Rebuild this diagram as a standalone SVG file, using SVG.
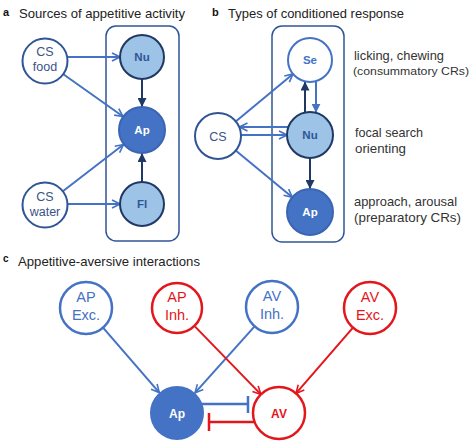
<svg xmlns="http://www.w3.org/2000/svg" width="474" height="441" viewBox="0 0 474 441">
<defs>
<style>
text{font-family:"Liberation Sans",Arial,sans-serif}
.title{font-size:13.5px;fill:#222}
.lab{font-size:11px;font-weight:bold;fill:#111}
.desc{font-size:13px;fill:#333}
.cs{fill:#fff;stroke:#2F5597;stroke-width:2}
.cst{font-size:12.5px;fill:#3A5486;text-anchor:middle}
.mid{fill:#9DC3E6;stroke:#203864;stroke-width:2}
.midt{font-size:11.5px;font-weight:bold;fill:#2F5597;text-anchor:middle}
.ap{fill:#4472C4;stroke:#3A65B5;stroke-width:2}
.apt{font-size:11.5px;font-weight:bold;fill:#fff;text-anchor:middle}
.se{fill:#fff;stroke:#4472C4;stroke-width:2}
.set{font-size:11.5px;font-weight:bold;fill:#4472C4;text-anchor:middle}
.box{fill:none;stroke:#2F5597;stroke-width:1.5}
.bl{stroke:#4472C4;stroke-width:2;fill:none}
.nv{stroke:#203864;stroke-width:2;fill:none}
.rd{stroke:#E3161C;stroke-width:2;fill:none}
.cb{fill:#fff;stroke:#4472C4;stroke-width:2.5}
.cr{fill:#fff;stroke:#E3161C;stroke-width:2.5}
.cbt{font-size:14.5px;fill:#4472C4;text-anchor:middle}
.crt{font-size:14.5px;fill:#E3161C;text-anchor:middle}
</style>
<marker id="ob" viewBox="0 0 10 10" refX="9" refY="5" markerWidth="10" markerHeight="10" markerUnits="userSpaceOnUse" orient="auto"><path d="M1,1 L9,5 L1,9" fill="none" stroke="#4472C4" stroke-width="1.6"/></marker>
<marker id="or" viewBox="0 0 10 10" refX="9" refY="5" markerWidth="10" markerHeight="10" markerUnits="userSpaceOnUse" orient="auto"><path d="M1,1 L9,5 L1,9" fill="none" stroke="#E3161C" stroke-width="1.6"/></marker>
<marker id="fn" viewBox="0 0 10 10" refX="10" refY="5" markerWidth="9" markerHeight="9" markerUnits="userSpaceOnUse" orient="auto"><path d="M0,0 L10,5 L0,10 z" fill="#203864"/></marker>
<marker id="fb" viewBox="0 0 10 10" refX="10" refY="5" markerWidth="9" markerHeight="9" markerUnits="userSpaceOnUse" orient="auto"><path d="M0,0 L10,5 L0,10 z" fill="#4472C4"/></marker>
</defs>
<rect width="474" height="441" fill="#fff"/>

<!-- titles -->
<g id="titles">
<text x="3" y="16" class="lab">a</text>
<text x="19" y="18" class="title" textLength="166" lengthAdjust="spacingAndGlyphs">Sources of appetitive activity</text>
<text x="212" y="16" class="lab">b</text>
<text x="228" y="18" class="title" textLength="176" lengthAdjust="spacingAndGlyphs">Types of conditioned response</text>
<text x="3" y="262" class="lab" style="font-size:10px">c</text>
<text x="18" y="266" class="title" textLength="182" lengthAdjust="spacingAndGlyphs">Appetitive-aversive interactions</text>
</g>

<!-- panel a -->
<g id="box-a"><rect x="106" y="26" width="73" height="215" rx="10" class="box"/></g>
<g id="connectors-a">
<line x1="67" y1="57" x2="120" y2="57" class="bl" marker-end="url(#ob)"/>
<line x1="63" y1="74" x2="123" y2="116.5" class="bl" marker-end="url(#ob)"/>
<line x1="62.5" y1="191.5" x2="123.5" y2="144.5" class="bl" marker-end="url(#ob)"/>
<line x1="67" y1="204" x2="120" y2="204" class="bl" marker-end="url(#ob)"/>
<line x1="142" y1="79" x2="142" y2="107" class="nv" marker-end="url(#fn)"/>
<line x1="142" y1="182" x2="142" y2="153" class="nv" marker-end="url(#fn)"/>
</g>
<g id="a-csfood"><circle cx="45" cy="61" r="22.5" class="cs"/><text x="45" y="56" class="cst">CS</text><text x="45" y="71" class="cst">food</text></g>
<g id="a-cswater"><circle cx="45" cy="205" r="22.5" class="cs"/><text x="45" y="201" class="cst">CS</text><text x="45" y="216" class="cst">water</text></g>
<g id="a-nu"><circle cx="142" cy="57" r="22" class="mid"/><text x="142" y="61" class="midt">Nu</text></g>
<g id="a-ap"><circle cx="142" cy="130" r="23" class="ap"/><text x="142" y="134" class="apt">Ap</text></g>
<g id="a-fl"><circle cx="142" cy="204" r="22" class="mid"/><text x="142" y="208" class="midt">Fl</text></g>

<!-- panel b -->
<g id="box-b"><rect x="272" y="26" width="72" height="216" rx="10" class="box"/></g>
<g id="connectors-b">
<line x1="235.7" y1="121.4" x2="293" y2="74" class="bl" marker-end="url(#ob)"/>
<line x1="288.4" y1="127" x2="239.5" y2="127" class="bl" marker-end="url(#ob)"/>
<line x1="241" y1="135" x2="287" y2="135" class="bl" marker-end="url(#ob)"/>
<line x1="235.7" y1="150.6" x2="292.3" y2="197.3" class="bl" marker-end="url(#ob)"/>
<line x1="305" y1="112.6" x2="305" y2="81.5" class="nv" marker-end="url(#fn)"/>
<line x1="316" y1="81.2" x2="316" y2="112.8" class="bl" marker-end="url(#fb)"/>
<line x1="310" y1="158" x2="310" y2="189" class="nv" marker-end="url(#fn)"/>
</g>
<g id="b-cs"><circle cx="218" cy="136" r="23" class="cs"/><text x="218" y="141" class="cst">CS</text></g>
<g id="b-se"><circle cx="310" cy="60" r="22" class="se"/><text x="310" y="64" class="set">Se</text></g>
<g id="b-nu"><circle cx="310" cy="135" r="23" class="mid"/><text x="310" y="139" class="midt">Nu</text></g>
<g id="b-ap"><circle cx="310" cy="212" r="23" class="ap"/><text x="310" y="216" class="apt">Ap</text></g>
<g id="b-labels">
<text x="354" y="60" class="desc" textLength="90" lengthAdjust="spacingAndGlyphs">licking, chewing</text>
<text x="353" y="75" class="desc" style="font-size:11.8px" textLength="116" lengthAdjust="spacingAndGlyphs">(consummatory CRs)</text>
<text x="355" y="137" class="desc" textLength="68" lengthAdjust="spacingAndGlyphs">focal search</text>
<text x="355" y="153" class="desc" textLength="51" lengthAdjust="spacingAndGlyphs">orienting</text>
<text x="354" y="206" class="desc" textLength="103" lengthAdjust="spacingAndGlyphs">approach, arousal</text>
<text x="354" y="222" class="desc" textLength="107" lengthAdjust="spacingAndGlyphs">(preparatory CRs)</text>
</g>

<!-- panel c -->
<g id="connectors-c">
<line x1="103" y1="327.6" x2="159.3" y2="392.6" class="bl" marker-end="url(#ob)"/>
<line x1="254.6" y1="326.4" x2="195" y2="392.9" class="bl" marker-end="url(#ob)"/>
<line x1="195.1" y1="326.6" x2="260.9" y2="394.4" class="rd" marker-end="url(#or)"/>
<line x1="353" y1="327.6" x2="296" y2="393.4" class="rd" marker-end="url(#or)"/>
<path d="M202,404 H248 M248,396 V413" class="bl" style="stroke-width:2.5"/>
<path d="M254,422 H209 M209,413 V431" class="rd" style="stroke-width:2.5"/>
</g>
<g id="c-apexc"><circle cx="86" cy="308" r="26" class="cb"/><text x="86" y="302" class="cbt">AP</text><text x="86" y="320" class="cbt">Exc.</text></g>
<g id="c-apinh"><circle cx="177" cy="308" r="25" class="cr"/><text x="177" y="302" class="crt">AP</text><text x="177" y="320" class="crt">Inh.</text></g>
<g id="c-avinh"><circle cx="272" cy="307" r="26" class="cb"/><text x="272" y="301" class="cbt">AV</text><text x="272" y="319" class="cbt">Inh.</text></g>
<g id="c-avexc"><circle cx="370" cy="308" r="26" class="cr"/><text x="370" y="302" class="crt">AV</text><text x="370" y="320" class="crt">Exc.</text></g>
<g id="c-ap"><circle cx="177" cy="413" r="26" fill="#4472C4" stroke="#4472C4" stroke-width="2"/><text x="177" y="417.5" class="apt" style="font-size:12px">Ap</text></g>
<g id="c-av"><circle cx="279" cy="413" r="26" class="cr"/><text x="279" y="417.5" class="apt" style="font-size:12px;fill:#E3161C">AV</text></g>
</svg>
